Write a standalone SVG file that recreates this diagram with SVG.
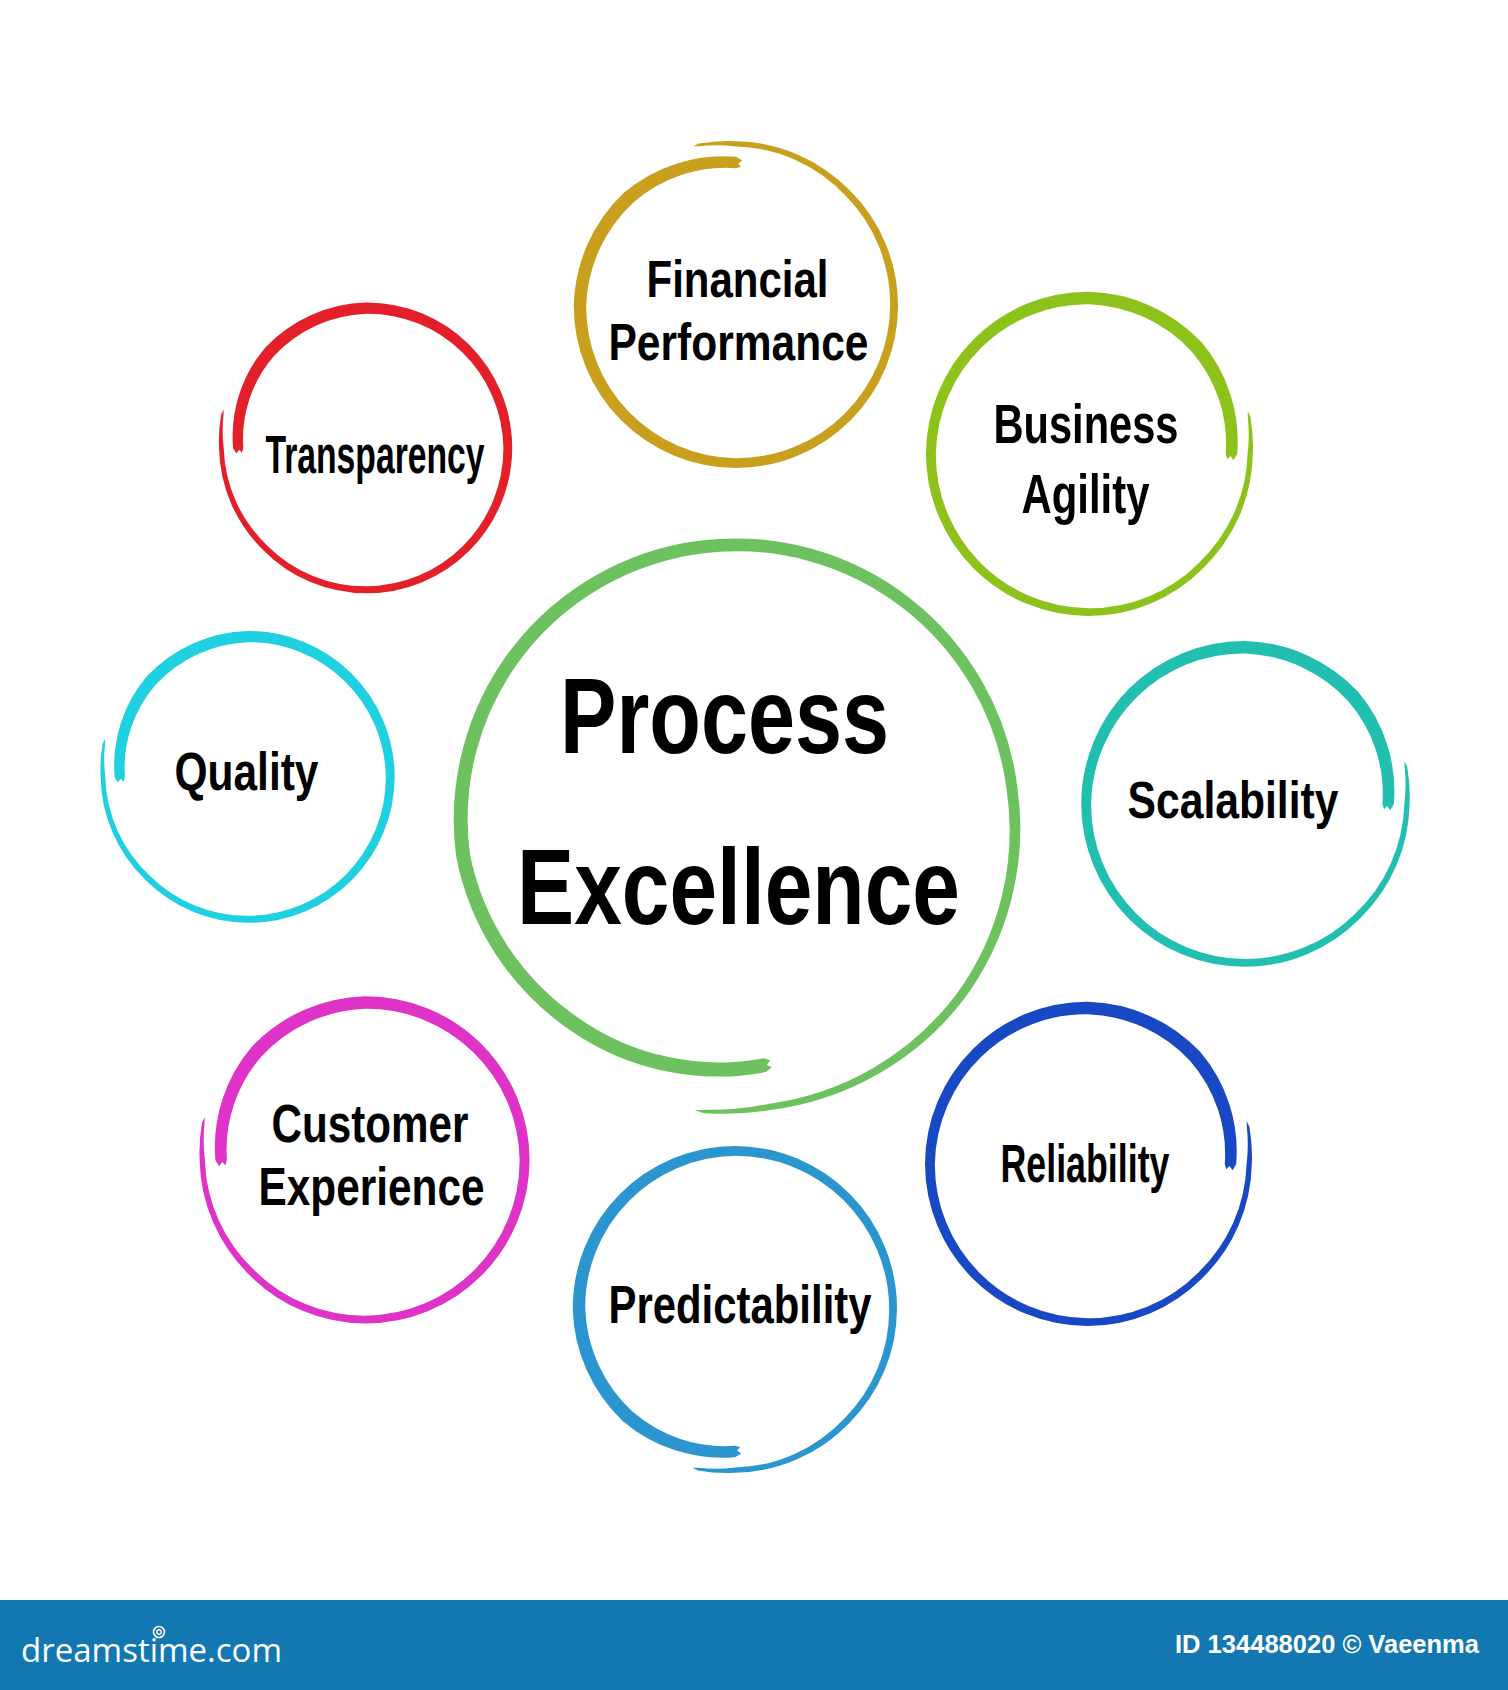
<svg xmlns="http://www.w3.org/2000/svg" xmlns:xlink="http://www.w3.org/1999/xlink" width="1508" height="1690" viewBox="0 0 1508 1690">
<style>
.lbl{font-family:"Liberation Sans",Arial,sans-serif;font-weight:bold;fill:#000;text-anchor:middle}
.foot{fill:#fff}
</style>
<defs>
<path id="ring" d="M -142.5 0 A 147.5 147.5 0 0 1 -107.83 -107.83 A 154 154 0 0 1 0 -156 A 156 156 0 0 1 110.66 -110.66 A 156.6 156.6 0 0 1 156.75 0 A 156.5 156.5 0 0 1 110.48 110.48 A 156 156 0 0 1 0 155.75 A 155.5 155.5 0 0 1 -109.78 109.78 A 156.4 156.4 0 0 1 -157.5 0 A 158.4 158.4 0 0 1 -155.17 -35.83 L -152.6 -41 L -152.74 -35.27 A 154.6 154.6 0 0 0 -152.5 0 A 150.6 150.6 0 0 0 -105.18 105.18 A 148.5 148.5 0 0 0 0 148.25 A 148 148 0 0 0 104.47 104.47 A 147.5 147.5 0 0 0 147.25 0 A 146.4 146.4 0 0 0 102.88 -102.88 A 144.75 144.75 0 0 0 0 -144 A 141.75 141.75 0 0 0 -98.64 -98.64 A 135.5 135.5 0 0 0 -131.5 0 L -133 5 L -136 2 L -139 6 Z"/>
<path id="bigring" d="M -252 0 A 259 259 0 0 1 -187.74 -187.74 A 273 273 0 0 1 0 -281 A 282 282 0 0 1 199.93 -199.93 A 283 283 0 0 1 283.5 0 A 284 284 0 0 1 200.82 200.82 A 284 284 0 0 1 0 284.5 A 287 287 0 0 1 -204.71 204.71 A 290 290 0 0 1 -290.25 0 A 291.5 291.5 0 0 1 -285.26 -65.87 L -281.1 -75.3 L -281.85 -65.08 A 286.5 286.5 0 0 0 -283.75 0 A 282 282 0 0 0 -198.34 198.34 A 277 277 0 0 0 0 273.5 A 273 273 0 0 0 192.33 192.33 A 271 271 0 0 0 270.5 0 A 270 270 0 0 0 190.39 -190.39 A 268 268 0 0 0 0 -267 A 259 259 0 0 0 -177.13 -177.13 A 244 244 0 0 0 -238 0 L -241 6 L -245 2 L -248 7 Z"/>
</defs>
<rect x="0" y="0" width="1508" height="1690" fill="#ffffff"/>

<g id="node-process-excellence">
<use xlink:href="#bigring" href="#bigring" transform="translate(735,822) rotate(-97)" fill="#6DC25F"/>
<text class="lbl" x="724.5" y="753" font-size="108" textLength="329" lengthAdjust="spacingAndGlyphs">Process</text>
<text class="lbl" x="738.5" y="924" font-size="107" textLength="443" lengthAdjust="spacingAndGlyphs">Excellence</text>
</g>

<g id="node-financial-performance">
<use xlink:href="#ring" href="#ring" transform="translate(736,305) rotate(-90) scale(-1.04,1.04)" fill="#C8A01E"/>
<text class="lbl" x="737.5" y="297" font-size="52" textLength="182" lengthAdjust="spacingAndGlyphs">Financial</text>
<text class="lbl" x="738.5" y="360" font-size="52" textLength="260" lengthAdjust="spacingAndGlyphs">Performance</text>
</g>

<g id="node-business-agility">
<use xlink:href="#ring" href="#ring" transform="translate(1089,454) scale(-1.04,1.04)" fill="#8CC21A"/>
<text class="lbl" x="1086" y="443" font-size="56" textLength="185" lengthAdjust="spacingAndGlyphs">Business</text>
<text class="lbl" x="1085.5" y="513" font-size="56" textLength="128" lengthAdjust="spacingAndGlyphs">Agility</text>
</g>

<g id="node-scalability">
<use xlink:href="#ring" href="#ring" transform="translate(1245,804) scale(-1.045,1.045)" fill="#20BFAF"/>
<text class="lbl" x="1233" y="818" font-size="52" textLength="211" lengthAdjust="spacingAndGlyphs">Scalability</text>
</g>

<g id="node-reliability">
<use xlink:href="#ring" href="#ring" transform="translate(1088,1164) scale(-1.04,1.04)" fill="#1848C4"/>
<text class="lbl" x="1085" y="1182" font-size="53" textLength="169" lengthAdjust="spacingAndGlyphs">Reliability</text>
</g>

<g id="node-predictability">
<use xlink:href="#ring" href="#ring" transform="translate(735,1309) rotate(-90) scale(1.04)" fill="#2A95CF"/>
<text class="lbl" x="740" y="1323" font-size="54" textLength="263" lengthAdjust="spacingAndGlyphs">Predictability</text>
</g>

<g id="node-customer-experience">
<use xlink:href="#ring" href="#ring" transform="translate(365,1160) scale(1.05)" fill="#DE33C6"/>
<text class="lbl" x="370" y="1142" font-size="54" textLength="197" lengthAdjust="spacingAndGlyphs">Customer</text>
<text class="lbl" x="371.5" y="1205" font-size="54" textLength="226" lengthAdjust="spacingAndGlyphs">Experience</text>
</g>

<g id="node-quality">
<use xlink:href="#ring" href="#ring" transform="translate(248,777) scale(0.936)" fill="#1FD0E0"/>
<text class="lbl" x="246.5" y="790" font-size="53" textLength="144" lengthAdjust="spacingAndGlyphs">Quality</text>
</g>

<g id="node-transparency">
<use xlink:href="#ring" href="#ring" transform="translate(366,448) scale(0.933)" fill="#E3202A"/>
<text class="lbl" x="375" y="473" font-size="54" textLength="219" lengthAdjust="spacingAndGlyphs">Transparency</text>
</g>

<g id="footer">
<rect x="0" y="1600" width="1508" height="90" fill="#1378B1"/>
<circle cx="159" cy="1632" r="5.5" fill="none" stroke="#fff" stroke-width="1.6"/>
<circle cx="159" cy="1632" r="2.2" fill="none" stroke="#fff" stroke-width="1.4"/>
<text class="foot" x="21" y="1662" font-family="'Open Sans','DejaVu Sans',sans-serif" font-size="32" textLength="261" lengthAdjust="spacingAndGlyphs">dreamstime.com</text>
<text class="foot" x="1175" y="1653" font-family="'Liberation Sans Narrow','Liberation Sans',Arial,sans-serif" font-weight="bold" font-size="25" textLength="304" lengthAdjust="spacingAndGlyphs">ID 134488020 © Vaeenma</text>
</g>
</svg>
